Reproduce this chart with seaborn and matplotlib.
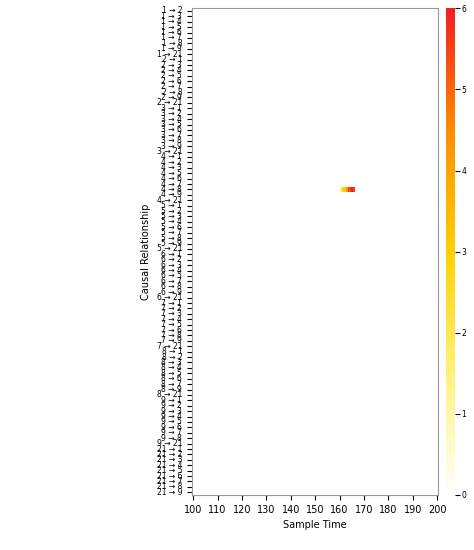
import numpy as np
import pandas as pd
import seaborn as sns
import matplotlib.pyplot as plt
from matplotlib.colors import LinearSegmentedColormap

variables = [1, 2, 3, 4, 5, 6, 7, 8, 9, 21]
sample_times = list(range(100, 201))
# causal strength in the one active relationship
active_pair = "4 → 8"
active_times = [161, 162, 163, 164, 165, 166]
active_values = [2.4, 3.0, 4.2, 5.4, 6.0, 5.6]

pairs = [f"{i} → {j}" for i in variables for j in variables if i != j]
grid = pd.DataFrame(0.0, index=pairs, columns=sample_times)
for t, v in zip(active_times, active_values):
    grid.loc[active_pair, t] = v

cmap = LinearSegmentedColormap.from_list(
    "wyr", ["#ffffff", "#fff27a", "#ffd000", "#ff8c00", "#f02020"])

fig = plt.figure(figsize=(4.74, 5.5), dpi=100)
ax = fig.add_axes([0.405, 0.10, 0.52, 0.885])
cax = fig.add_axes([0.94, 0.10, 0.02, 0.885])
sns.heatmap(grid, ax=ax, cbar_ax=cax, cmap=cmap, vmin=0, vmax=6,
            xticklabels=False, yticklabels=True)
ax.set_yticklabels(pairs, fontsize=5.5, rotation=0)
xt = list(range(100, 201, 10))
ax.set_xticks([t - 100 + 0.5 for t in xt])
ax.set_xticklabels([str(t) for t in xt], fontsize=7)
for t in xt:
    ax.axvline(t - 100 + 0.5, color="#eeeeee", lw=0.5, zorder=0)
for s in ax.spines.values():
    s.set_visible(True)
    s.set_color("#999999")
ax.set_xlabel("Sample Time", fontsize=7)
ax.set_ylabel("Causal Relationship", fontsize=7)
cax.tick_params(labelsize=5.5, pad=1)
fig.savefig("out.png", dpi=100)
